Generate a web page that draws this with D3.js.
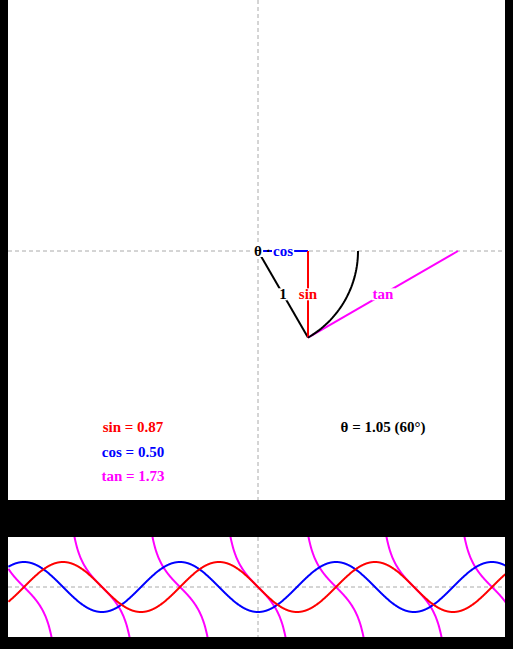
<!DOCTYPE html>
<html lang="en">
<head>
<meta charset="UTF-8">
<title>Unit circle</title>
<script src="https://d3js.org/d3.v7.min.js"></script>
<style>
  body { margin: 0; background: #000; }
  text { font-family: "Liberation Serif", serif; font-weight: bold; font-size: 15px; }
  .axis { stroke: #aaa; stroke-dasharray: 4 3; stroke-width: 1; }
</style>
</head>
<body>
<svg id="chart"></svg>
<script>
  const theta = Math.PI / 3;
  const colors = { sin: "red", cos: "blue", tan: "magenta" };
  const fnNames = ["sin", "cos", "tan"];
  const waveDomain = [-Math.PI * 3.2, Math.PI * 3.2];

  const W = 513, H = 649;
  const svg = d3.select("#chart").attr("width", W).attr("height", H);

  // top panel
  const topP = { x: 8, y: 0, w: 497, h: 500 };
  svg.append("rect").attr("x", topP.x).attr("y", topP.y).attr("width", topP.w).attr("height", topP.h).attr("fill", "#fff");
  const x = d3.scaleLinear().domain([0, 1]).range([258, 358]);
  const y = d3.scaleLinear().domain([0, 1]).range([251, 351]);
  svg.append("line").attr("class", "axis").attr("x1", topP.x).attr("x2", topP.x + topP.w).attr("y1", y(0)).attr("y2", y(0));
  svg.append("line").attr("class", "axis").attr("x1", x(0)).attr("x2", x(0)).attr("y1", topP.y).attr("y2", topP.h);

  const c = Math.cos(theta), s = Math.sin(theta), t = Math.tan(theta);
  const g = svg.append("g").attr("fill", "none").attr("stroke-width", 2);
  g.append("line").attr("x1", x(0)).attr("y1", y(0)).attr("x2", x(c)).attr("y2", y(s)).attr("stroke", "#000");
  g.append("line").attr("x1", x(0)).attr("y1", y(0)).attr("x2", x(c)).attr("y2", y(0)).attr("stroke", colors.cos);
  g.append("line").attr("x1", x(c)).attr("y1", y(0)).attr("x2", x(c)).attr("y2", y(s)).attr("stroke", colors.sin);
  g.append("line").attr("x1", x(c)).attr("y1", y(s)).attr("x2", x(1 / c)).attr("y2", y(0)).attr("stroke", colors.tan);
  const arcPts = d3.range(0, 41).map(i => theta * i / 40);
  g.append("path").attr("stroke", "#000")
    .attr("d", d3.line().x(a => x(Math.cos(a))).y(a => y(Math.sin(a)))(arcPts));

  function label(txt, px, py, color) {
    const el = svg.append("text").attr("x", px).attr("y", py).attr("text-anchor", "middle")
      .attr("dominant-baseline", "central").attr("fill", color).text(txt);
    const b = el.node().getBBox();
    svg.insert("rect", () => el.node()).attr("x", b.x - 1).attr("y", b.y + 2)
      .attr("width", b.width + 2).attr("height", b.height - 4).attr("fill", "#fff");
  }
  label("θ", x(0), y(0), "#000");
  svg.append("text").attr("x", x(0) + 8).attr("y", y(0)).attr("dominant-baseline", "central").text("·");
  label("cos", x(c / 2), y(0), colors.cos);
  label("1", x(c / 2), y(s / 2), "#000");
  label("sin", x(c), y(s / 2), colors.sin);
  label("tan", x((c + 1 / c) / 2), y(s / 2), colors.tan);

  const vals = { sin: s, cos: c, tan: t };
  fnNames.forEach((n, i) => {
    svg.append("text").attr("x", 133).attr("y", 427 + i * 24.5).attr("text-anchor", "middle")
      .attr("dominant-baseline", "central").attr("fill", colors[n])
      .text(`${n} = ${vals[n].toFixed(2)}`);
  });
  svg.append("text").attr("x", 383).attr("y", 427).attr("text-anchor", "middle")
    .attr("dominant-baseline", "central").attr("fill", "#000")
    .text(`θ = ${theta.toFixed(2)} (${Math.round(theta * 180 / Math.PI)}°)`);

  // bottom panel
  const bot = { x: 8, y: 537, w: 497, h: 100 };
  svg.append("rect").attr("x", bot.x).attr("y", bot.y).attr("width", bot.w).attr("height", bot.h).attr("fill", "#fff");
  const bx = d3.scaleLinear().domain([-Math.PI, Math.PI]).range([258 - 78, 258 + 78]);
  const by = d3.scaleLinear().domain([-1, 1]).range([562, 612]);
  svg.append("line").attr("class", "axis").attr("x1", bot.x).attr("x2", bot.x + bot.w).attr("y1", by(0)).attr("y2", by(0));
  svg.append("line").attr("class", "axis").attr("x1", bx(0)).attr("x2", bx(0)).attr("y1", bot.y).attr("y2", bot.y + bot.h);
  svg.append("clipPath").attr("id", "bc").append("rect")
    .attr("x", bot.x).attr("y", bot.y).attr("width", bot.w).attr("height", bot.h);
  const bg = svg.append("g").attr("clip-path", "url(#bc)");
  const pts = d3.range(0, 1601).map(i => waveDomain[0] + (waveDomain[1] - waveDomain[0]) * i / 1600);
  const fns = { sin: Math.sin, cos: Math.cos, tan: Math.tan };
  ["tan", "cos", "sin"].forEach(n => {
    bg.append("path").attr("fill", "none").attr("stroke", colors[n]).attr("stroke-width", 2)
      .attr("d", d3.line().defined(a => Math.abs(fns[n](a)) < 10).x(bx).y(a => by(fns[n](a)))(pts));
  });
</script>
</body>
</html>
